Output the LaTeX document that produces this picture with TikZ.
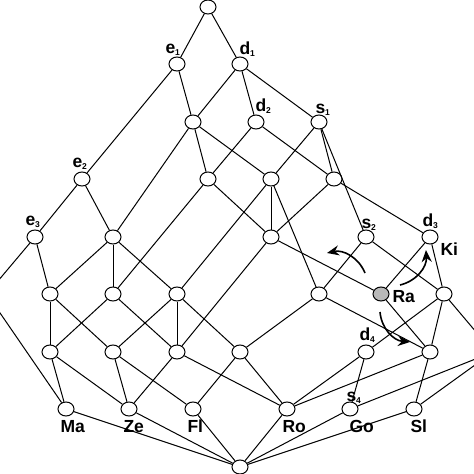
\documentclass[tikz,border=0pt]{standalone}
\usepackage{fontspec}
\setmainfont{Liberation Sans}
\usetikzlibrary{shapes.geometric,arrows.meta}
\newcommand{\sublab}[2]{#1\raisebox{-2.5pt}{\fontsize{8.5}{8.5}\selectfont #2}}
\begin{document}
\begin{tikzpicture}[x=1pt,y=-1pt,line width=1pt,
  knot/.style={draw,ellipse,fill=white,minimum width=16pt,minimum height=14pt,inner sep=0pt},
  lbl/.style={anchor=base west,inner sep=0pt,font=\bfseries\fontsize{17.5}{17.5}\selectfont},
  turn/.style={line width=1.6pt,-{Stealth[length=12pt,width=10pt]}}]
\useasboundingbox (0,0) rectangle (474,474);
\clip (0,0) rectangle (474,474);
\foreach \n/\x/\y in {top/208/7, e1/177/64, d1/240/64,
  a/193/122, d2/256/122, s1/319/122,
  e2/82/179, b/208/179, d/271/179, e/334/179,
  e3/35/237, c/113/237, o/271/237, s2/366/237, d3/430/237,
  f/50/294, g/113/294, h/177/294, l/319/294, m/444/294,
  i/50/352, j/113/352, k/177/352, q/240/352, d4/366/352, n/430/352,
  ma/66/409, ze/129/409, fl/193/409, ro/287/409, go/350/409, sl/414/409,
  bot/240/467}
  \node[knot] (\n) at (\x,\y) {};
\node[knot,fill=gray!55] (ra) at (381,294) {};
\coordinate (west) at (-13,294);
\coordinate (east) at (493,352);
\foreach \p/\r in {top/e1, top/d1, e1/a, e1/e2, d1/a, d1/d2, d1/s1,
  a/b, a/c, a/d, d2/b, d2/e, s1/d, s1/e, s1/s2,
  e2/e3, e2/c, b/g, b/o, d/o, d/l, d/h, e/o, e/d3,
  e3/f, e3/west, c/f, c/g, c/h, o/k, o/ra, s2/l, s2/m, d3/ra, d3/m,
  f/i, f/j, g/i, g/k, h/j, h/k, h/q, l/q, l/n, ra/n, m/d4, m/n, m/east,
  west/ma, i/ma, i/ze, j/ze, j/fl, k/ze, k/ro, q/fl, q/ro,
  d4/ro, d4/go, n/ro, n/sl, east/go, east/sl,
  ma/bot, ze/bot, fl/bot, ro/bot, go/bot, sl/bot}
  \draw (\p) -- (\r);
% labels
\node[lbl] (le1) at ([shift={(-12,-11)}]e1.center) {\sublab e1};
\node[lbl] (ld1) at ([shift={(-1,-10)}]d1.center) {\sublab d1};
\node[lbl] (ld2) at ([shift={(-1,-11)}]d2.center) {\sublab d2};
\node[lbl] (ls1) at ([shift={(-4,-9)}]s1.center) {\sublab s1};
\node[lbl] (le2) at ([shift={(-10,-12)}]e2.center) {\sublab e2};
\node[lbl] (le3) at ([shift={(-10,-12)}]e3.center) {\sublab e3};
\node[lbl] (ls2) at ([shift={(-5,-9)}]s2.center) {\sublab s2};
\node[lbl] (ld3) at ([shift={(-8,-11)}]d3.center) {\sublab d3};
\node[lbl] (ld4) at ([shift={(-7,-12)}]d4.center) {\sublab d4};
\node[lbl] (ls4) at ([shift={(-4,-8)}]go.center) {\sublab s4};
\node[lbl] (lki) at ([shift={(10,18)}]d3.center) {Ki};
\node[lbl] (lra) at ([shift={(11,8)}]ra.center) {Ra};
\foreach \n/\dx/\t in {ma/-6/Ma, ze/-6/Ze, fl/-6/Fl, ro/-5/Ro, go/-1/Go, sl/-4/Sl}
  \node[lbl] (l\n) at ([shift={(\dx,23)}]\n.center) {\t};
% moves
\coordinate (up1) at (365,273);
\coordinate (up2) at (327,253);
\coordinate (ki1) at (400,285);
\coordinate (ki2) at (426,250);
\coordinate (dn1) at (380,312);
\coordinate (dn2) at (410,342);
\draw[turn] (up1) to[bend right=40] (up2);
\draw[turn] (ki1) to[bend right=40] (ki2);
\draw[turn] (dn1) to[bend right=40] (dn2);
\end{tikzpicture}
\end{document}
